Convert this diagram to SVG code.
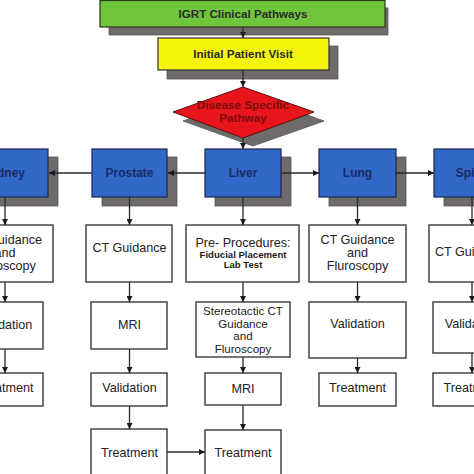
<svg xmlns="http://www.w3.org/2000/svg" width="474" height="474" viewBox="0 0 474 474">
<defs>
<marker id="ah" viewBox="0 0 10 10" refX="10" refY="5" markerWidth="6" markerHeight="6" markerUnits="userSpaceOnUse" orient="auto">
<path d="M0,0 L10,5 L0,10 z" fill="#1a1a1a"/>
</marker>
</defs>
<style>
.sh{fill:#6f6b6b;stroke:#555;stroke-width:0.8}
.top{fill:#6fc63c;stroke:#2a3a1a;stroke-width:1.2}
.yel{fill:#f4f40c;stroke:#333;stroke-width:1.2}
.dia{fill:#e8151d;stroke:#5a1010;stroke-width:1}
.blue{fill:#3168c8;stroke:#1a2550;stroke-width:1.2}
.wb{fill:#ffffff;stroke:#3a3a3a;stroke-width:1.4}
.t{font-family:"Liberation Sans",Arial,sans-serif;text-anchor:middle}
.tt{font-size:11.6px;font-weight:bold;fill:#2a2a2a}
.dt{font-size:11.7px;font-weight:bold;fill:#7a0c0c}
.bt{font-size:12px;font-weight:bold;fill:#1b2c66}
.wt{font-size:12.6px;fill:#222}
.wt2{font-size:11.6px;fill:#222}
.st{font-size:9.6px;font-weight:bold;fill:#222}
.c{stroke:#2a2a2a;stroke-width:1.3;fill:none;marker-end:url(#ah)}
</style>
<rect width="474" height="474" fill="#ffffff"/>

<g id="igrt">
<rect class="sh" x="109" y="8" width="279" height="27"/>
<rect class="top" x="100" y="0.5" width="285" height="26.5"/>
<text class="t tt" x="243" y="18">IGRT Clinical Pathways</text>
</g>
<g id="visit">
<rect class="sh" x="167" y="46" width="171" height="33"/>
<rect class="yel" x="158" y="38" width="171" height="32"/>
<text class="t tt" x="243" y="58">Initial Patient Visit</text>
</g>
<g id="disease">
<polygon class="sh" points="253,95 324,121 253,146 183,121"/>
<polygon class="dia" points="243,87 314,112 243,138 173,112"/>
<text class="t dt" x="243" y="109">Disease Specific</text>
<text class="t dt" x="243" y="122">Pathway</text>
</g>

<g id="kidney">
<rect class="sh" x="-28" y="157" width="86" height="49"/>
<rect class="blue" x="-38" y="149" width="86" height="48"/>
<text class="t bt" x="5" y="177">Kidney</text>
</g>
<g id="prostate">
<rect class="sh" x="102" y="157" width="75" height="49"/>
<rect class="blue" x="92" y="149" width="75" height="48"/>
<text class="t bt" x="129.5" y="177">Prostate</text>
</g>
<g id="liver">
<rect class="sh" x="215" y="157" width="76" height="49"/>
<rect class="blue" x="205" y="149" width="76" height="48"/>
<text class="t bt" x="243" y="177">Liver</text>
</g>
<g id="lung">
<rect class="sh" x="329" y="157" width="77" height="49"/>
<rect class="blue" x="319" y="149" width="77" height="48"/>
<text class="t bt" x="357.5" y="177">Lung</text>
</g>
<g id="spine">
<rect class="sh" x="444" y="157" width="76" height="49"/>
<rect class="blue" x="434" y="149" width="76" height="48"/>
<text class="t bt" x="472" y="177">Spine</text>
</g>

<g id="kidney-ct">
<rect class="wb" x="-42" y="225" width="95" height="57"/>
<text class="t wt" x="5" y="244">CT Guidance</text>
<text class="t wt" x="5" y="257">and</text>
<text class="t wt" x="5" y="270">Fluroscopy</text>
</g>
<g id="kidney-validation">
<rect class="wb" x="-33" y="302" width="76" height="47"/>
<text class="t wt" x="5" y="329">Validation</text>
</g>
<g id="kidney-treatment">
<rect class="wb" x="-33" y="373" width="76" height="33"/>
<text class="t wt" x="5" y="392">Treatment</text>
</g>

<g id="prostate-ct">
<rect class="wb" x="86" y="225" width="86" height="57"/>
<text class="t wt" x="129.5" y="252">CT Guidance</text>
</g>
<g id="prostate-mri">
<rect class="wb" x="91" y="302" width="76" height="47"/>
<text class="t wt" x="129.5" y="329">MRI</text>
</g>
<g id="prostate-validation">
<rect class="wb" x="91" y="373" width="76" height="33"/>
<text class="t wt" x="129.5" y="392">Validation</text>
</g>
<g id="prostate-treatment">
<rect class="wb" x="91" y="429" width="76" height="48"/>
<text class="t wt" x="129.5" y="457">Treatment</text>
</g>

<g id="liver-pre">
<rect class="wb" x="186" y="225" width="113" height="57"/>
<text class="t wt" x="243" y="247">Pre- Procedures:</text>
<text class="t st" x="243" y="258">Fiducial Placement</text>
<text class="t st" x="243" y="268">Lab Test</text>
</g>
<g id="liver-stereo">
<rect class="wb" x="196" y="302" width="94" height="55"/>
<text class="t wt2" x="243" y="315">Stereotactic CT</text>
<text class="t wt2" x="243" y="327.5">Guidance</text>
<text class="t wt2" x="243" y="340">and</text>
<text class="t wt2" x="243" y="352.5">Fluroscopy</text>
</g>
<g id="liver-mri">
<rect class="wb" x="205" y="373" width="76" height="32"/>
<text class="t wt" x="243" y="393">MRI</text>
</g>
<g id="liver-treatment">
<rect class="wb" x="205" y="430" width="76" height="47"/>
<text class="t wt" x="243" y="457">Treatment</text>
</g>

<g id="lung-ct">
<rect class="wb" x="309" y="225" width="97" height="57"/>
<text class="t wt" x="357.5" y="244">CT Guidance</text>
<text class="t wt" x="357.5" y="257">and</text>
<text class="t wt" x="357.5" y="270">Fluroscopy</text>
</g>
<g id="lung-validation">
<rect class="wb" x="309" y="302" width="97" height="56"/>
<text class="t wt" x="357.5" y="328">Validation</text>
</g>
<g id="lung-treatment">
<rect class="wb" x="319" y="373" width="77" height="33"/>
<text class="t wt" x="357.5" y="392">Treatment</text>
</g>

<g id="spine-ct">
<rect class="wb" x="429" y="225" width="86" height="57"/>
<text class="t wt" x="472" y="256">CT Guidance</text>
</g>
<g id="spine-validation">
<rect class="wb" x="433" y="302" width="78" height="51"/>
<text class="t wt" x="472" y="328">Validation</text>
</g>
<g id="spine-treatment">
<rect class="wb" x="433" y="373" width="78" height="33"/>
<text class="t wt" x="472" y="392">Treatment</text>
</g>

<g id="connectors">
<line class="c" x1="243" y1="27" x2="243" y2="38"/>
<line class="c" x1="243" y1="70" x2="243" y2="87"/>
<line class="c" x1="243" y1="138" x2="243" y2="149"/>
<line class="c" x1="205" y1="173" x2="168" y2="173"/>
<line class="c" x1="92" y1="173" x2="49" y2="173"/>
<line class="c" x1="281" y1="173" x2="319" y2="173"/>
<line class="c" x1="396" y1="173" x2="434" y2="173"/>

<line class="c" x1="5" y1="197" x2="5" y2="225"/>
<line class="c" x1="5" y1="282" x2="5" y2="302"/>
<line class="c" x1="5" y1="349" x2="5" y2="373"/>

<line class="c" x1="129.5" y1="197" x2="129.5" y2="225"/>
<line class="c" x1="129.5" y1="282" x2="129.5" y2="302"/>
<line class="c" x1="129.5" y1="349" x2="129.5" y2="373"/>
<line class="c" x1="129.5" y1="406" x2="129.5" y2="429"/>
<line class="c" x1="167" y1="452" x2="205" y2="452"/>

<line class="c" x1="243" y1="197" x2="243" y2="225"/>
<line class="c" x1="243" y1="282" x2="243" y2="302"/>
<line class="c" x1="243" y1="357" x2="243" y2="373"/>
<line class="c" x1="243" y1="405" x2="243" y2="430"/>

<line class="c" x1="357.5" y1="197" x2="357.5" y2="225"/>
<line class="c" x1="357.5" y1="282" x2="357.5" y2="302"/>
<line class="c" x1="357.5" y1="358" x2="357.5" y2="373"/>

<line class="c" x1="472" y1="197" x2="472" y2="225"/>
<line class="c" x1="472" y1="282" x2="472" y2="302"/>
<line class="c" x1="472" y1="353" x2="472" y2="373"/>
</g>
</svg>
